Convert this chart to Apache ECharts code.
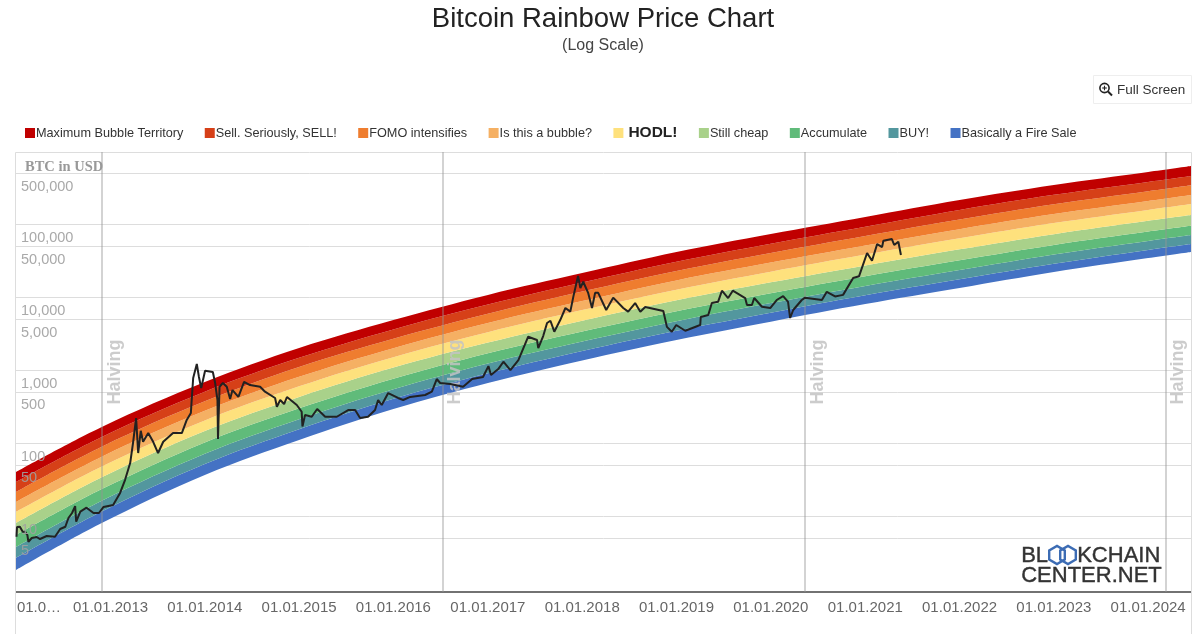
<!DOCTYPE html>
<html>
<head>
<meta charset="utf-8">
<script src="https://cdn.jsdelivr.net/npm/echarts@6/dist/echarts.min.js"></script>
<style>
html, body { margin: 0; padding: 0; background: #fff; }
#main { width: 1200px; height: 634px; }
</style>
</head>
<body>
<div id="main"></div>
<script>
var FONT = '"Liberation Sans", Arial, sans-serif';

// rainbow band edges, one value per date
var bandDates = ['2012-01-01', '2012-11-28', '2014-01-01', '2015-01-01', '2016-01-01', '2017-01-01', '2018-01-01', '2019-01-01', '2020-01-01', '2021-01-01', '2022-01-01', '2023-01-01', '2024-01-01', '2024-06-15'];
var bubbleTop = [40.1, 166, 685, 2000, 4840, 10700, 21300, 41400, 72900, 125000, 213000, 342000, 516000, 623000];
var sellTop   = [29.2, 121, 505, 1470, 3600, 7900, 15800, 30400, 53700, 91800, 156000, 251000, 377000, 455000];
var fomoTop   = [21.3, 89, 372, 1100, 2680, 5900, 11900, 22800, 40100, 68500, 115000, 186000, 281000, 339000];
var bubbleQTop = [15.6, 65, 276, 807, 1990, 4410, 8800, 16900, 29600, 50800, 85100, 137000, 207000, 250000];
var hodlTop   = [11.4, 47.8, 204, 598, 1500, 3300, 6620, 12600, 22200, 38100, 63700, 103000, 156000, 188000];
var cheapTop  = [8.02, 33.9, 146, 428, 1080, 2380, 4750, 9040, 15900, 27100, 45000, 72700, 111000, 133000];
var accumTop  = [5.49, 23.4, 102, 299, 760, 1700, 3380, 6400, 11300, 19300, 31900, 51700, 79000, 94800];
var buyTop    = [3.76, 16.2, 71.3, 212, 546, 1230, 2460, 4660, 8250, 14200, 23400, 38300, 58700, 70700];
var fireTop   = [2.66, 11.5, 51.4, 154, 403, 900, 1820, 3450, 6110, 10600, 17500, 28600, 44200, 53200];
var fireBottom = [1.82, 8.02, 36.5, 110, 292, 664, 1350, 2580, 4600, 8020, 13300, 22000, 34200, 41400];

var bandEdges = [bubbleTop, sellTop, fomoTop, bubbleQTop, hodlTop, cheapTop, accumTop, buyTop, fireTop, fireBottom];
var bandNames = ['Maximum Bubble Territory', 'Sell. Seriously, SELL!', 'FOMO intensifies', 'Is this a bubble?', 'HODL!', 'Still cheap', 'Accumulate', 'BUY!', 'Basically a Fire Sale'];
var bandColors = ['#c00000', '#d64018', '#ef7d2f', '#f5b063', '#fee17d', '#a9d18a', '#60bb7a', '#53979e', '#4472c4'];

// BTC price
var btcDates = ['2012-01-03','2012-01-05','2012-01-16','2012-01-27','2012-02-05','2012-02-14','2012-02-18','2012-03-02','2012-03-21','2012-04-03','2012-04-29','2012-05-31','2012-06-20','2012-07-10','2012-07-22','2012-08-05','2012-08-17','2012-08-21','2012-09-06','2012-09-30','2012-10-27','2012-11-17','2012-12-05',
'2013-01-11','2013-02-07','2013-02-26','2013-03-18','2013-03-29','2013-04-10','2013-04-18','2013-04-28','2013-05-07','2013-05-27','2013-06-15','2013-07-04','2013-07-24','2013-08-31','2013-10-04','2013-10-23','2013-11-08','2013-11-12','2013-11-17','2013-12-01','2013-12-09','2013-12-18',
'2014-01-02','2014-02-01','2014-02-10','2014-02-19','2014-02-21','2014-02-27','2014-03-12','2014-03-27','2014-04-09','2014-04-18','2014-05-11','2014-06-02','2014-06-25','2014-08-03','2014-08-22','2014-09-30','2014-10-07','2014-10-20','2014-11-04','2014-11-15','2014-12-23',
'2015-01-11','2015-01-14','2015-01-24','2015-02-19','2015-03-12','2015-04-12','2015-05-27','2015-07-10','2015-08-06','2015-08-25','2015-09-25','2015-10-22','2015-11-03','2015-11-17','2015-12-12',
'2016-01-19','2016-02-08','2016-03-06','2016-05-03','2016-05-29','2016-06-17','2016-06-30','2016-08-08','2016-09-27','2016-11-01','2016-12-13',
'2017-01-03','2017-01-13','2017-02-10','2017-03-02','2017-03-29','2017-04-29','2017-06-06','2017-07-10','2017-07-15','2017-08-03','2017-08-18','2017-08-31','2017-09-15','2017-10-08','2017-10-28','2017-11-16','2017-11-28','2017-12-16','2017-12-25',
'2018-01-05','2018-01-24','2018-02-08','2018-02-20','2018-03-04','2018-04-04','2018-05-01','2018-06-09','2018-06-28','2018-07-25','2018-08-14','2018-09-02','2018-11-11','2018-11-25','2018-12-14','2018-12-31',
'2019-02-04','2019-04-03','2019-04-05','2019-05-04','2019-05-18','2019-06-11','2019-06-26','2019-07-20','2019-08-07','2019-09-24','2019-10-01','2019-10-20','2019-10-29','2019-11-28','2019-12-30',
'2020-01-24','2020-02-18','2020-03-08','2020-03-16','2020-03-28','2020-04-30','2020-05-13','2020-07-17','2020-08-05','2020-09-06','2020-10-07','2020-11-15','2020-12-08',
'2021-01-08','2021-01-27','2021-02-16','2021-03-07','2021-03-12','2021-04-14','2021-04-23','2021-05-09','2021-05-19'];
var btcPrices = [5.2,7.07,7.13,6.1,6.1,5.49,4.44,5,5.16,4.84,5.32,5.2,6.64,7.13,9.39,11,13.7,8.35,11.5,13,11,11,13.3,
14.2,20.7,31.1,53.2,100,220,72.9,147,104,137,104,72.9,104,137,137,207,258,428,777,1210,810,567,
980,939,664,388,114,590,664,590,401,532,428,690,623,590,505,414,314,388,342,427,332,
268,168,242,229,292,229,229,283,283,220,229,283,388,332,484,
414,388,428,455,505,753,664,643,590,753,802,
1130,854,1030,1300,1000,1370,2860,2580,2000,2920,4410,4730,3350,4840,7070,6300,10200,19400,13300,
16200,11400,7070,11400,11400,6640,9800,7070,6300,8280,6300,7290,6430,3900,3350,4140,
3450,4140,5320,5670,8280,8600,12200,9690,12200,9690,7770,7770,9690,7360,7070,
9100,10300,8600,5160,6640,9100,9800,9100,11800,10200,10700,18200,19300,
40100,31400,53200,48400,59000,62300,51600,57200,37600];

var halvingDates = ['2012-11-28', '2016-07-09', '2020-05-11', '2024-03-08'];
var yTicks = [5, 10, 50, 100, 500, 1000, 5000, 10000, 50000, 100000, 500000];

var xMin = +new Date('2012-01-01');
var yExtent = { min: 0.91, max: 970000 };
var DAY_MS = 86400000;

function pad2(n) { return n < 10 ? '0' + n : '' + n; }

var series = [];
// lowest edge is the transparent base of the stack
series.push({
    name: 'base', type: 'line', stack: 'rainbow', smooth: 0.35, showSymbol: false, silent: true, z: 2,
    lineStyle: { width: 0 },
    data: bandDates.map(function (d, i) { return [d, fireBottom[i]]; })
});
for (var b = bandNames.length - 1; b >= 0; b--) {
    (function (b) {
        series.push({
            name: bandNames[b], type: 'line', stack: 'rainbow', smooth: 0.35, showSymbol: false, silent: true, z: 2,
            lineStyle: { width: 0 },
            itemStyle: { color: bandColors[b] },
            areaStyle: { color: bandColors[b], opacity: 1 },
            data: bandDates.map(function (d, i) { return [d, bandEdges[b][i] - bandEdges[b + 1][i]]; })
        });
    })(b);
}
series.push({
    name: 'BTC', type: 'line', showSymbol: false, silent: true, z: 5,
    lineStyle: { color: '#222', width: 2 },
    itemStyle: { color: '#222' },
    data: btcDates.map(function (d, i) { return [d, btcPrices[i]]; }),
    markLine: {
        silent: true, symbol: 'none', animation: false,
        lineStyle: { color: 'rgba(150,150,150,0.55)', width: 1.5, type: 'solid' },
        label: {
            show: true, formatter: 'Halving', position: 'insideMiddleBottom', distance: 4,
            color: 'rgba(195,195,195,0.85)', fontFamily: FONT, fontWeight: 'bold', fontSize: 18
        },
        data: halvingDates.map(function (d) { return { xAxis: d }; })
    }
});

var legendData = bandNames.map(function (n) {
    if (n === 'HODL!') {
        return { name: n, textStyle: { fontWeight: 'bold', fontSize: 15.5, color: '#222', padding: [0, 0, 0, 0] } };
    }
    return { name: n };
});

var hexagon = function (cx, cy) {
    var r = 9, pts = [];
    for (var i = 0; i < 6; i++) {
        var a = Math.PI / 6 + i * Math.PI / 3;
        pts.push([cx + r * Math.cos(a), cy + r * Math.sin(a)]);
    }
    return { type: 'polygon', z: 20, shape: { points: pts }, style: { fill: 'none', stroke: '#3c6cb4', lineWidth: 2.4 } };
};

var option = {
    animation: false,
    backgroundColor: '#fff',
    title: [
        { text: 'Bitcoin Rainbow Price Chart', left: 598, top: 0, textAlign: 'center',
          textStyle: { fontFamily: FONT, fontSize: 27.5, fontWeight: 'normal', color: '#222' } },
        { text: '(Log Scale)', left: 598, top: 33, textAlign: 'center',
          textStyle: { fontFamily: FONT, fontSize: 16, fontWeight: 'normal', color: '#444' } }
    ],
    legend: {
        left: 25, top: 125, padding: 0, itemWidth: 10, itemHeight: 10, itemGap: 21.4,
        icon: 'rect', selectedMode: false,
        textStyle: { fontFamily: FONT, fontSize: 12.7, color: '#333', padding: [0, 0, 0, -4] },
        data: legendData
    },
    grid: { left: 16, right: 9, top: 152, bottom: 42, outerBoundsMode: 'none' },
    xAxis: {
        type: 'time',
        min: '2012-01-01',
        max: '2024-06-15',
        splitNumber: 12,
        minInterval: 300 * DAY_MS,
        maxInterval: 367 * DAY_MS,
        splitLine: { show: false },
        axisTick: { show: false },
        axisLine: { lineStyle: { color: '#444', width: 1.5 } },
        axisLabel: {
            hideOverlap: false,
            margin: 8,
            fontFamily: FONT, fontSize: 15, color: '#666',
            rich: { first: { fontFamily: FONT, fontSize: 15, color: '#666', padding: [0, 0, 0, 46] } },
            formatter: function (v) {
                if (v === xMin) return '{first|01.0\u2026}';
                var d = new Date(v);
                return pad2(d.getDate()) + '.' + pad2(d.getMonth() + 1) + '.' + d.getFullYear();
            }
        }
    },
    yAxis: [
        {   // grid lines, under the rainbow
            type: 'log', logBase: 10, min: yExtent.min, max: yExtent.max, z: 0,
            axisLine: { show: false },
            axisTick: { show: false, customValues: yTicks },
            axisLabel: { show: false },
            splitLine: { show: true, lineStyle: { color: '#ddd', width: 1 } }
        },
        {   // tick labels, over the rainbow
            type: 'log', logBase: 10, min: yExtent.min, max: yExtent.max, position: 'left', z: 10,
            axisLine: { show: false },
            axisTick: { show: false },
            splitLine: { show: false },
            axisLabel: {
                inside: true, margin: 5, customValues: yTicks,
                align: 'left', verticalAlign: 'top', padding: [6, 0, 0, 0],
                fontFamily: FONT, fontSize: 14.5, color: 'rgba(160,160,160,0.9)',
                formatter: function (v) { return Math.round(v).toLocaleString('en-US'); }
            }
        }
    ],
    series: series,
    graphic: [
        // frame round the plot, runs down past the x axis
        { type: 'polyline', z: 1, shape: { points: [[15.5, 634], [15.5, 152.5], [1191.5, 152.5], [1191.5, 634]] }, style: { fill: 'none', stroke: '#ddd', lineWidth: 1 } },
        { type: 'text', z: 20, left: 25, top: 160, style: { text: 'BTC in USD', fill: '#999', font: 'bold 14.5px "Liberation Serif", serif' } },
        // full screen button
        { type: 'rect', z: 20, shape: { x: 1093.5, y: 75.5, width: 98, height: 28 }, style: { fill: '#fff', stroke: '#eee', lineWidth: 1 } },
        { type: 'circle', z: 21, shape: { cx: 1104.5, cy: 88, r: 4.6 }, style: { fill: 'none', stroke: '#222', lineWidth: 1.6 } },
        { type: 'line', z: 21, shape: { x1: 1108, y1: 91.5, x2: 1112, y2: 95.5 }, style: { stroke: '#222', lineWidth: 2 } },
        { type: 'line', z: 21, shape: { x1: 1102.2, y1: 88, x2: 1106.8, y2: 88 }, style: { stroke: '#222', lineWidth: 1.1 } },
        { type: 'line', z: 21, shape: { x1: 1104.5, y1: 85.7, x2: 1104.5, y2: 90.3 }, style: { stroke: '#222', lineWidth: 1.1 } },
        { type: 'text', z: 21, left: 1117, top: 83, style: { text: 'Full Screen', fill: '#333', font: '13.5px "Liberation Sans", sans-serif' } },
        // logo
        { type: 'text', z: 20, left: 1021, top: 545, style: { text: 'BL', fill: '#333', stroke: '#333', lineWidth: 0.4, font: '22px "Liberation Sans", sans-serif' } },
        hexagon(1057, 555),
        hexagon(1068, 555),
        { type: 'text', z: 20, left: 1077, top: 545, style: { text: 'KCHAIN', fill: '#333', stroke: '#333', lineWidth: 0.4, font: '22px "Liberation Sans", sans-serif' } },
        { type: 'text', z: 20, left: 1021, top: 565, style: { text: 'CENTER.NET', fill: '#333', stroke: '#333', lineWidth: 0.4, font: '22px "Liberation Sans", sans-serif' } }
    ]
};

var myChart = echarts.init(document.getElementById('main'));
myChart.setOption(option);
</script>
</body>
</html>
